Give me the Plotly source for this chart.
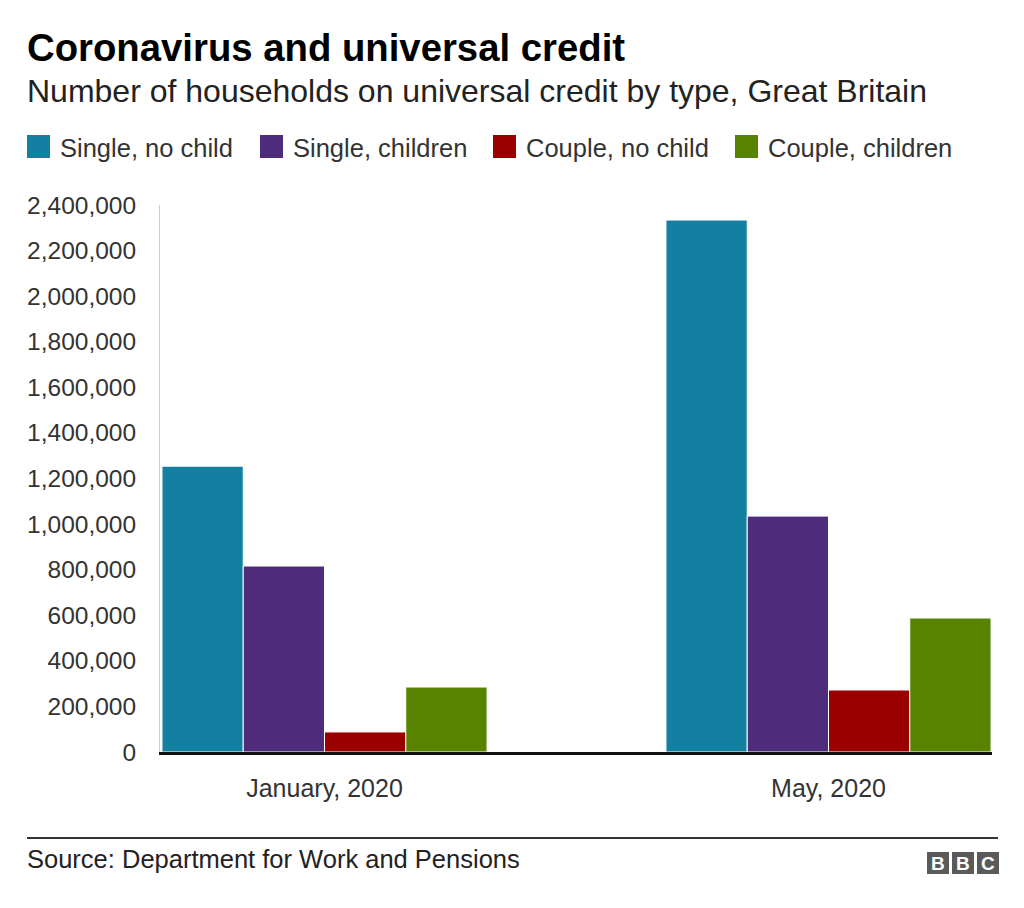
import plotly.graph_objects as go

# ---- data ----
categories = ["January, 2020", "May, 2020"]
series_names = ["Single, no child", "Single, children", "Couple, no child", "Couple, children"]
single_no_child = [1254000, 2334000]
single_children = [816000, 1035000]
couple_no_child = [88000, 272000]
couple_children = [285000, 588000]
y_ticks = [0, 200000, 400000, 600000, 800000, 1000000, 1200000,
           1400000, 1600000, 1800000, 2000000, 2200000, 2400000]

series_values = [single_no_child, single_children, couple_no_child, couple_children]
colors = ["#1380A1", "#4E2C7B", "#990000", "#588300"]

W, H = 1024, 908
L, R, T, B = 160, 32, 205, 156
PW, PH = W - L - R, H - T - B


def px(x):
    return (x - L) / PW


def py(y):
    return (H - B - y) / PH


fig = go.Figure()
for name, vals, col in zip(series_names, series_values, colors):
    fig.add_trace(go.Bar(
        x=categories, y=vals, name=name, showlegend=False,
        marker=dict(color=col, line=dict(color="white", width=1)),
    ))

font_fam = "Liberation Sans, Arial, sans-serif"

fig.update_layout(
    width=W, height=H,
    margin=dict(l=L, r=R, t=T, b=B, pad=0),
    paper_bgcolor="white", plot_bgcolor="white",
    barmode="group", bargap=0.355, bargroupgap=0,
    font=dict(family=font_fam, color="#333333", size=24),
    xaxis=dict(
        type="category", range=[-0.3264, 1.3244],
        showline=True, linecolor="#111111", linewidth=3,
        showgrid=False, zeroline=False,
        ticks="outside", ticklen=12, tickcolor="rgba(0,0,0,0)",
        tickfont=dict(size=25, color="#333333"),
        fixedrange=True,
    ),
    yaxis=dict(
        range=[0, 2400000], tickvals=y_ticks,
        ticktext=[f"{v:,}" for v in y_ticks],
        showline=True, linecolor="#cccccc", linewidth=1,
        showgrid=False, zeroline=False,
        ticks="outside", ticklen=18, tickcolor="rgba(0,0,0,0)",
        tickfont=dict(size=24.5, color="#333333"),
        fixedrange=True,
    ),
)

annotations = []
shapes = []

# title & subtitle
annotations.append(dict(
    text="<b>Coronavirus and universal credit</b>", xref="paper", yref="paper",
    x=px(25), y=py(48), xanchor="left", yanchor="middle", showarrow=False,
    font=dict(size=38.3, color="#000000", family=font_fam)))
annotations.append(dict(
    text="Number of households on universal credit by type, Great Britain",
    xref="paper", yref="paper", x=px(25), y=py(91), xanchor="left", yanchor="middle",
    showarrow=False, font=dict(size=32, color="#222222", family=font_fam)))

# legend (manual, large square swatches)
legend_x = [27, 260, 493, 735]
for name, col, lx in zip(series_names, colors, legend_x):
    shapes.append(dict(type="rect", xref="paper", yref="paper",
                       x0=px(lx), x1=px(lx + 23), y0=py(158), y1=py(135),
                       fillcolor=col, line=dict(width=0)))
    annotations.append(dict(text=name, xref="paper", yref="paper",
                            x=px(lx + 31), y=py(148), xanchor="left", yanchor="middle",
                            showarrow=False, font=dict(size=25.5, color="#333333", family=font_fam)))

# footer line
shapes.append(dict(type="line", xref="paper", yref="paper",
                   x0=px(27), x1=px(998), y0=py(838), y1=py(838),
                   line=dict(color="#333333", width=2)))
annotations.append(dict(text="Source: Department for Work and Pensions",
                        xref="paper", yref="paper", x=px(25), y=py(859),
                        xanchor="left", yanchor="middle", showarrow=False,
                        font=dict(size=25.5, color="#222222", family=font_fam)))

# BBC logo
for i, letter in enumerate("BBC"):
    x0 = 927 + i * 25
    shapes.append(dict(type="rect", xref="paper", yref="paper",
                       x0=px(x0), x1=px(x0 + 22), y0=py(874), y1=py(852),
                       fillcolor="#5a5a5a", line=dict(width=0)))
    annotations.append(dict(text=f"<b>{letter}</b>", xref="paper", yref="paper",
                            x=px(x0 + 11), y=py(863.5), xanchor="center", yanchor="middle",
                            showarrow=False, font=dict(size=19, color="white", family=font_fam)))

fig.update_layout(annotations=annotations, shapes=shapes)
fig.write_html("out.html")
